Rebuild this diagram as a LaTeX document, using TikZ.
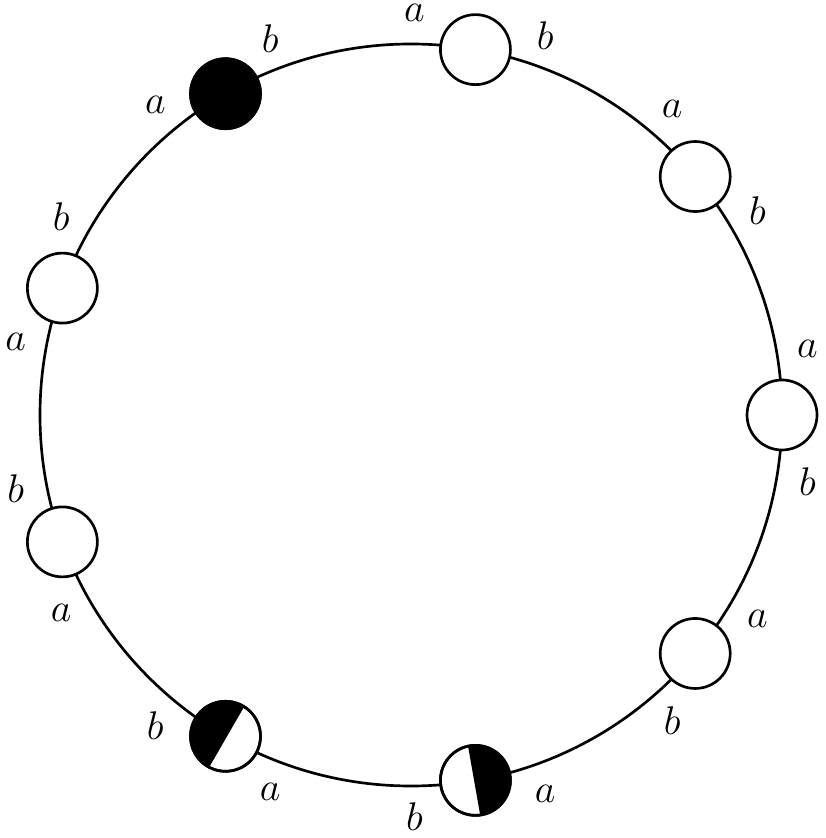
\documentclass[tikz,border=0pt]{standalone}
\begin{document}
\begin{tikzpicture}[x=0.3pt,y=0.3pt,
  ring/.style={line width=0.8pt},
  bead/.style={circle,draw,line width=0.8pt,fill=white,minimum size=21pt,inner sep=0pt},
  lab/.style={inner sep=0pt,font=\large}]
\useasboundingbox (-411,-423) rectangle (414,415);
\draw[ring] (0,0) circle (371);
\foreach \i/\t in {0/0,1/40,2/80,3/120,4/160,5/200,6/240,7/280,8/320}{
  \node[bead] (n\i) at (\t:371) {};
  \node[lab] (a\i) at (\t+9.5:402) {$a$};
  \node[lab] (b\i) at (\t-9.5:402) {$b$};
}
\fill (n3.center) circle (35);
\draw[line width=0.8pt] (n3.center) circle (35);
\foreach \i/\s in {6/60,7/280}{
  \fill (n\i.center) ++(\s:35) arc[start angle=\s, end angle=\s+180, radius=35] -- cycle;
  \draw[line width=0.8pt] (n\i.center) circle (35);
  \draw[line width=0.8pt] (n\i.center) ++(\s:35) -- ++(\s+180:70);
}
\end{tikzpicture}
\end{document}
